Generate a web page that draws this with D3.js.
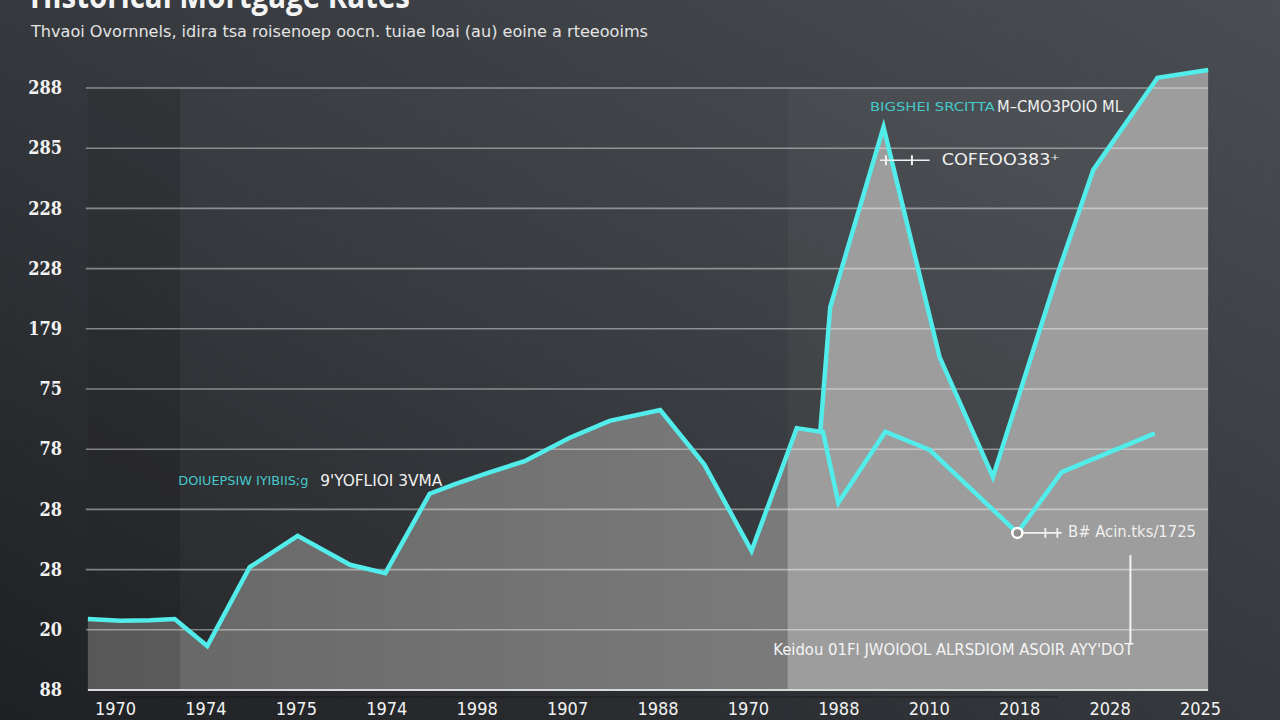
<!DOCTYPE html>
<html>
<head>
<meta charset="utf-8">
<script src="https://cdn.jsdelivr.net/npm/d3@7"></script>
<style>
  html, body { margin: 0; padding: 0; background: #2a2d30; }
  svg { display: block; }
</style>
</head>
<body>
<svg id="chart" width="1280" height="720"></svg>
<script>
// ---------- data ----------
const xLabels = ["1970","1974","1975","1974","1998","1907","1988","1970","1988","2010","2018","2028","2025"];
const yLabels = ["88","20","28","28","78","75","179","228","228","285","288"];

// main series: position along the axis (tick units) and value (tick units)
const mainX = [-0.30,0.06,0.39,0.66,1.02,1.49,2.02,2.60,2.99,3.48,3.76,4.15,4.53,5.03,5.47,6.03,6.52,7.04,7.54,7.80,7.91,8.50,9.12,9.71,10.42,10.82,11.53,12.09];
const mainY = [1.18,1.15,1.16,1.18,0.73,2.04,2.56,2.08,1.94,3.26,3.42,3.62,3.80,4.19,4.47,4.65,3.74,2.31,4.35,4.29,6.36,9.35,5.53,3.54,6.89,8.64,10.17,10.30];

// second series
const subX = [7.83,8.00,8.52,9.01,9.98,10.47,11.48];
const subY = [4.29,3.11,4.29,3.99,2.61,3.62,4.25];

// shaded bands (tick units)
const bandDark = [-0.30, 0.72];
const bandLight = [7.44, 12.09];

// annotations
const title = "Historical Mortgage Rates";
const subtitle = "Thvaoi Ovornnels, idira tsa roisenoep oocn. tuiae loai (au) eoine a rteeooims";
const annTop = {x: 8.35, y: 9.68, cyan: "BIGSHEI SRCITTA", white: "M–CMO3POIO ML"};
const annPeak = {x0: 8.46, x1: 9.01, y: 8.80, text: "COFEOO383⁺"};
const annLeft = {x: 0.70, x2: 2.27, y: 3.46, cyan: "DOIUEPSIW IYIBIIS;g", white: "9'YOFLIOI 3VMA"};
const annTrough = {x: 9.98, y: 2.61, x1: 10.47, tx: 10.54, text: "B# Acin.tks/1725"};
const annBottom = {x: 7.28, y: 0.66, text: "Keidou 01Fl JWOIOOL ALRSDIOM ASOIR AYY'DOT"};
const annVLine = {x: 11.23, y0: 2.24, y1: 0.75};

// ---------- layout ----------
const svg = d3.select("#chart");
const W = 1280, H = 720;
const x = d3.scaleLinear().domain([0, 12]).range([115, 1200]);
const y = d3.scaleLinear().domain([0, 10]).range([690, 88]);
const xMin = bandDark[0], xMax = bandLight[1];

const defs = svg.append("defs");
const bg = defs.append("linearGradient").attr("id","bg").attr("x1","0").attr("y1","1").attr("x2","1").attr("y2","0");
bg.append("stop").attr("offset","0").attr("stop-color","#1e2023");
bg.append("stop").attr("offset","0.45").attr("stop-color","#33363a");
bg.append("stop").attr("offset","1").attr("stop-color","#4a4e52");

const areaGrad = defs.append("linearGradient").attr("id","areaGrad").attr("x1","0").attr("y1","0").attr("x2","1").attr("y2","0");
areaGrad.append("stop").attr("offset","0").attr("stop-color","#666666");
areaGrad.append("stop").attr("offset","0.6").attr("stop-color","#7a7a7a");
areaGrad.append("stop").attr("offset","1").attr("stop-color","#848484");

defs.append("clipPath").attr("id","clipLight").append("rect")
  .attr("x", x(bandLight[0])).attr("y", 0).attr("width", x(bandLight[1]) - x(bandLight[0])).attr("height", H);

svg.append("rect").attr("width",W).attr("height",H).attr("fill","url(#bg)");

// plot background (slightly lighter than surrounding)
svg.append("rect")
  .attr("x", x(xMin)).attr("y", y(10)).attr("width", x(bandLight[0]) - x(xMin)).attr("height", y(0) - y(10))
  .attr("fill", "#ffffff").attr("opacity", 0.025);

// area under main line
const pts = mainX.map((d,i)=>[d, mainY[i]]);
const area = d3.area().x(d=>x(d[0])).y0(y(0)).y1(d=>y(d[1]));
svg.append("path").datum(pts).attr("d", area).attr("fill","url(#areaGrad)");
// lighter area in the right band
svg.append("path").datum(pts).attr("d", area).attr("fill","#989898").attr("clip-path","url(#clipLight)");

// bands
svg.append("rect")
  .attr("x", x(bandDark[0])).attr("y", y(10))
  .attr("width", x(bandDark[1]) - x(bandDark[0])).attr("height", y(0) - y(10))
  .attr("fill", "#000").attr("opacity", 0.13);
svg.append("rect")
  .attr("x", x(bandLight[0])).attr("y", y(10))
  .attr("width", x(bandLight[1]) - x(bandLight[0])).attr("height", y(0) - y(10))
  .attr("fill", "#fff").attr("opacity", 0.05);

// gridlines
svg.append("g").selectAll("line").data(d3.range(1, 11)).join("line")
  .attr("x1", x(xMin) - 2).attr("x2", x(xMax))
  .attr("y1", d=>y(d)).attr("y2", d=>y(d))
  .attr("stroke", "#ffffff").attr("stroke-opacity", 0.42).attr("stroke-width", 1.6);
// baseline
svg.append("line")
  .attr("x1", x(xMin)).attr("x2", x(xMax)).attr("y1", y(0)).attr("y2", y(0))
  .attr("stroke", "#d8d8d8").attr("stroke-width", 2.2);
svg.append("line")
  .attr("x1", x(xMin)+30).attr("x2", x(xMax)-150).attr("y1", y(0)+7).attr("y2", y(0)+7)
  .attr("stroke", "#000").attr("stroke-opacity", 0.25).attr("stroke-width", 1.5);

// y axis
const yAxis = svg.append("g").attr("transform", "translate(62,0)")
  .call(d3.axisLeft(y).tickValues(d3.range(0, 11)).tickFormat(i => yLabels[i]).tickSize(0).tickPadding(0));
yAxis.select(".domain").remove();
yAxis.selectAll("text")
  .attr("fill", "#f2f2f2").attr("font-family", "'DejaVu Serif Condensed','DejaVu Serif',serif")
  .attr("font-weight", "bold").attr("font-size", 18);

// x axis
const xAxis = svg.append("g").attr("transform", `translate(0,${y(0)})`)
  .call(d3.axisBottom(x).tickValues(d3.range(0, 13)).tickFormat(i => xLabels[i]).tickSize(0).tickPadding(12));
xAxis.select(".domain").remove();
xAxis.selectAll("text")
  .attr("fill", "#f2f2f2").attr("font-family", "'Liberation Sans Narrow','DejaVu Sans Condensed',sans-serif")
  .attr("font-size", 18).attr("dy", "0.71em");

// lines
const line = d3.line().x(d=>x(d[0])).y(d=>y(d[1]));
const cyan = "#52ecea";
svg.append("path").datum(subX.map((d,i)=>[d, subY[i]]))
  .attr("d", line).attr("fill","none").attr("stroke", cyan).attr("stroke-width", 4.5)
  .attr("stroke-linejoin","miter").attr("stroke-linecap","round");
svg.append("path").datum(pts)
  .attr("d", line).attr("fill","none").attr("stroke", cyan).attr("stroke-width", 4.5)
  .attr("stroke-linejoin","miter").attr("stroke-linecap","butt");

// annotations
const narrow = "'Liberation Sans Narrow','DejaVu Sans Condensed',sans-serif";
function txt(xp, yp, s, color, size, len) {
  const t = svg.append("text").attr("x", xp).attr("y", yp).text(s)
    .attr("fill", color).attr("font-family", narrow).attr("font-size", size)
    .attr("dominant-baseline", "middle");
  if (len) t.attr("textLength", len).attr("lengthAdjust", "spacingAndGlyphs");
  return t;
}

// title / subtitle
svg.append("text").attr("x", 30).attr("y", 8).text(title)
  .attr("fill", "#f4f4f4").attr("font-family", "'Open Sans','DejaVu Sans',sans-serif")
  .attr("font-weight", "bold").attr("font-size", 34)
  .attr("textLength", 380).attr("lengthAdjust", "spacingAndGlyphs");
svg.append("text").attr("x", 31).attr("y", 37).text(subtitle)
  .attr("fill", "#e4e4e4").attr("font-family", narrow).attr("font-size", 16)
  .attr("textLength", 617).attr("lengthAdjust", "spacingAndGlyphs");

// top annotation
txt(x(annTop.x), y(annTop.y), annTop.cyan, "#45c9cb", 13, 125);
txt(x(annTop.x) + 127, y(annTop.y), annTop.white, "#f0f0f0", 16, 126);

// peak annotation
svg.append("line").attr("x1", x(annPeak.x0)).attr("x2", x(annPeak.x1))
  .attr("y1", y(annPeak.y)).attr("y2", y(annPeak.y)).attr("stroke", "#f0f0f0").attr("stroke-width", 1.6);
[x(annPeak.x0) + 6, x(annPeak.x0) + 32].forEach(px => {
  svg.append("line").attr("x1", px).attr("x2", px).attr("y1", y(annPeak.y) - 5).attr("y2", y(annPeak.y) + 5)
    .attr("stroke", "#f0f0f0").attr("stroke-width", 2);
});
txt(x(annPeak.x1) + 12, y(annPeak.y), annPeak.text, "#f0f0f0", 16, 118);

// left annotation
txt(x(annLeft.x), y(annLeft.y), annLeft.cyan, "#45c9cb", 13, 130);
txt(x(annLeft.x2), y(annLeft.y), annLeft.white, "#f0f0f0", 16, 122);

// trough marker annotation
svg.append("line").attr("x1", x(annTrough.x)).attr("x2", x(annTrough.x1))
  .attr("y1", y(annTrough.y)).attr("y2", y(annTrough.y)).attr("stroke", "#f0f0f0").attr("stroke-width", 1.6);
[x(annTrough.x) + 28, x(annTrough.x) + 40].forEach(px => {
  svg.append("line").attr("x1", px).attr("x2", px).attr("y1", y(annTrough.y) - 5).attr("y2", y(annTrough.y) + 5)
    .attr("stroke", "#f0f0f0").attr("stroke-width", 1.8);
});
svg.append("circle").attr("cx", x(annTrough.x)).attr("cy", y(annTrough.y)).attr("r", 5)
  .attr("fill", "#8e8e8e").attr("stroke", "#ffffff").attr("stroke-width", 2.5);
txt(x(annTrough.tx), y(annTrough.y), annTrough.text, "#f0f0f0", 16, 128);

// vertical line + bottom annotation
svg.append("line").attr("x1", x(annVLine.x)).attr("x2", x(annVLine.x))
  .attr("y1", y(annVLine.y0)).attr("y2", y(annVLine.y1)).attr("stroke", "#f4f4f4").attr("stroke-width", 2);
txt(x(annBottom.x), y(annBottom.y), annBottom.text, "#f4f4f4", 15, 360);
</script>
</body>
</html>
